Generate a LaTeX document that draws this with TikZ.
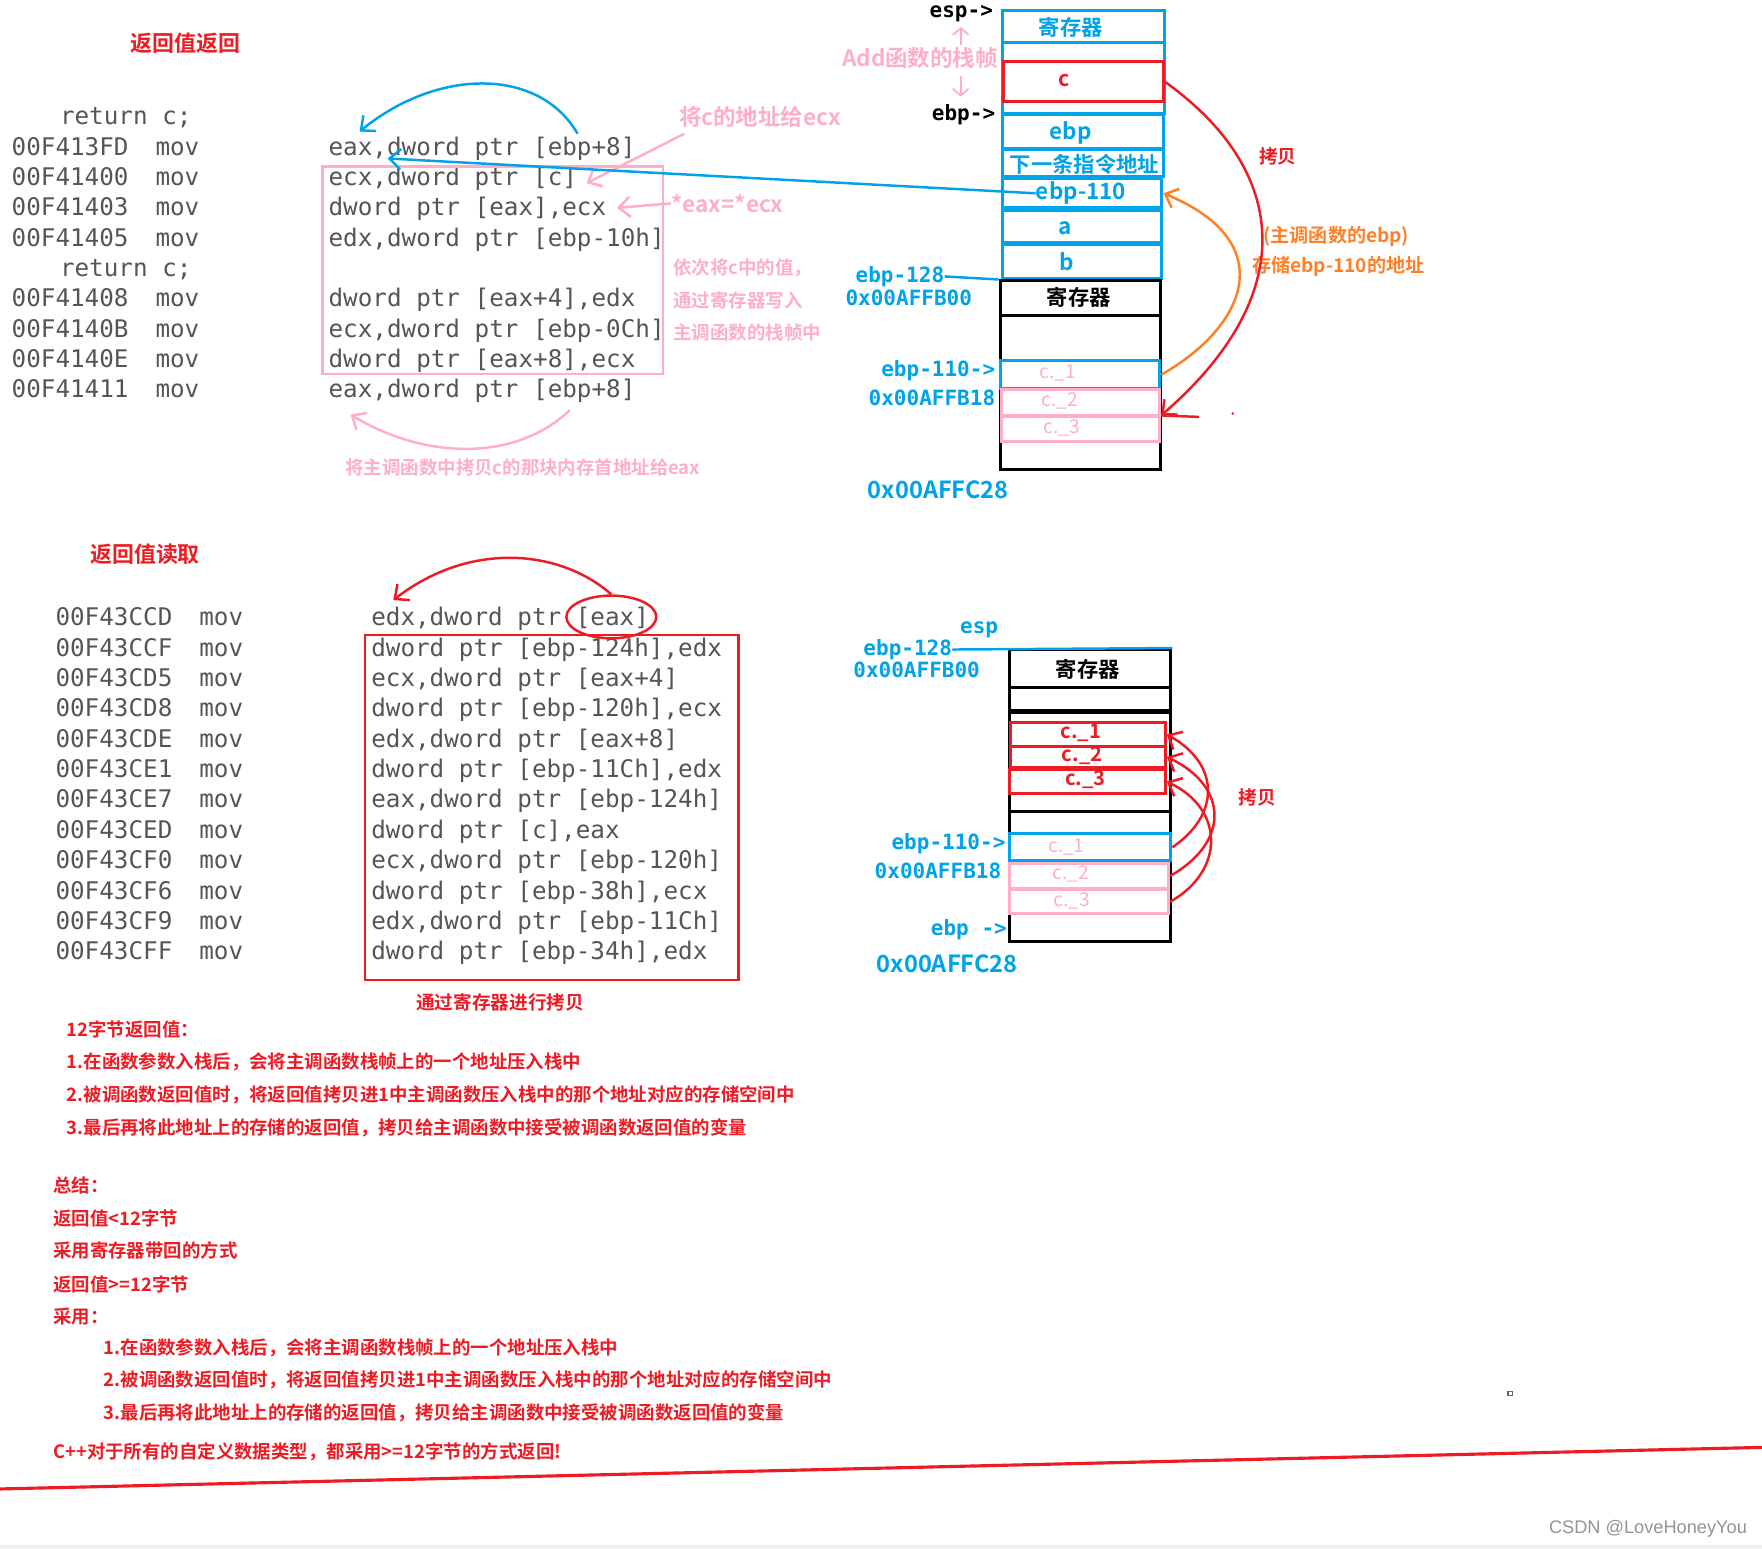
\documentclass[tikz,border=0pt]{standalone}
\usepackage{fontspec}
\setmainfont{Noto Sans CJK SC}[BoldFont={Noto Sans CJK SC Bold}]
\setmonofont{DejaVu Sans Mono}
\newfontfamily\wmfont{Liberation Sans}
\usetikzlibrary{arrows.meta,fit,shapes.geometric}
\definecolor{pred}{RGB}{237,28,36}
\definecolor{pblue}{RGB}{0,162,232}
\definecolor{ppink}{RGB}{255,174,201}
\definecolor{porange}{RGB}{255,127,39}
\definecolor{codegray}{RGB}{85,85,85}
\begin{document}
\begin{tikzpicture}[x=0.5pt,y=-0.5pt,
  code/.style={font=\ttfamily\fontsize{10.8pt}{10.8pt}\selectfont, text=codegray, anchor=base west, inner sep=0},
  redt/.style={font=\bfseries\fontsize{8.2pt}{8.2pt}\selectfont, text=pred, anchor=west, inner sep=0},
  titlet/.style={font=\bfseries\fontsize{9.75pt}{9.75pt}\selectfont, text=pred, anchor=west, inner sep=0},
  pinkbig/.style={font=\bfseries\fontsize{10pt}{10pt}\selectfont, text=ppink, anchor=west, inner sep=0},
  pinksm/.style={font=\bfseries\fontsize{8.2pt}{8.2pt}\selectfont, text=ppink, anchor=west, inner sep=0},
  oranget/.style={font=\bfseries\fontsize{8.5pt}{8.5pt}\selectfont, text=porange, anchor=west, inner sep=0},
  stackt/.style={font=\bfseries\fontsize{9.5pt}{9.5pt}\selectfont, inner sep=0},
  monob/.style={font=\ttfamily\bfseries\fontsize{9.35pt}{9.35pt}\selectfont, text=pblue, inner sep=0},
  ctext/.style={font=\fontsize{8.5pt}{8.5pt}\selectfont, text=ppink, inner sep=0},
  ctextr/.style={font=\bfseries\fontsize{9pt}{9pt}\selectfont, text=pred, inner sep=0},
  bluebox/.style={draw=pblue, line width=1.3pt, inner sep=0},
  redbox/.style={draw=pred, line width=1.3pt, inner sep=0},
  pinkbox/.style={draw=ppink, line width=1.3pt, inner sep=0},
  blackbox/.style={draw=black, line width=1.3pt, inner sep=0},
  tip/.style={-{Straight Barb[length=5pt,width=9pt]}},
  blueline/.style={draw=pblue, line width=1.1pt},
  redline/.style={draw=pred, line width=1.1pt},
  pinkline/.style={draw=ppink, line width=1.1pt},
  orangeline/.style={draw=porange, line width=1.1pt}]

\fill[white] (0,0) rectangle (1568,1378);
\useasboundingbox (0,0) rectangle (1568,1378);
\fill[black!6] (0,1375) rectangle (1568,1378);

%%%%%%%%%%%%%%%% top code
\node[titlet] (title1) at (116,38) {返回值返回};
\node[code] (ret1) at (53,111) {return c;};
\node[code] (ret2) at (53,246) {return c;};
\foreach \yy/\ad/\op [count=\i] in {
138/00F413FD/{eax,dword ptr [ebp+8]},
165/00F41400/{ecx,dword ptr [c]},
192/00F41403/{dword ptr [eax],ecx},
219/00F41405/{edx,dword ptr [ebp-10h]},
273/00F41408/{dword ptr [eax+4],edx},
300/00F4140B/{ecx,dword ptr [ebp-0Ch]},
327/00F4140E/{dword ptr [eax+8],ecx},
354/00F41411/{eax,dword ptr [ebp+8]}}
{\node[code] (ua\i) at (10,\yy) {\ad};
 \node[code] (um\i) at (138,\yy) {mov};
 \node[code] (uo\i) at (292,\yy) {\op};}

\node[fit={(287,148)(590,333)}, draw=ppink, line width=1.1pt, inner sep=0] (pbox) {};

\node[pinkbig] (lab1) at (604,104) {将c的地址给ecx};
\node[pinkbig] (lab2) at (597,181) {*eax=*ecx};
\node[pinksm] (lab3) at (599,238) {依次将c中的值，};
\node[pinksm] (lab4) at (599,267) {通过寄存器写入};
\node[pinksm] (lab5) at (599,296) {主调函数的栈帧中};
\node[pinksm] (lab6) at (307,416) {将主调函数中拷贝c的那块内存首地址给eax};

\coordinate (b1s) at (514,119);
\coordinate (b1e) at (320,117);
\draw[blueline,tip] (b1s) .. controls (480,60) and (390,60) .. (b1e);
\coordinate (p1s) at (609,119);
\coordinate (p1e) at (522,163);
\draw[pinkline,tip] (p1s) -- (p1e);
\coordinate (p2e) at (549,185);
\draw[pinkline,tip] (lab2.west) -- (p2e);
\coordinate (p3s) at (507,365);
\coordinate (p3e) at (312,369);
\draw[pinkline,tip] (p3s) .. controls (460,410) and (380,410) .. (p3e);

%%%%%%%%%%%%%%%% top stack
\node[bluebox, fit={(892,9)(1036,101)}] (sframe) {};
\node[bluebox, fit={(892,9)(1036,38)}] (sreg) {};
\node[redbox, fit={(893,55)(1035,90)}] (sc) {};
\node[bluebox, fit={(892,102)(1035,132)}] (sebp) {};
\node[bluebox, fit={(892,133)(1035,157)}] (snext) {};
\node[bluebox, fit={(892,159)(1034,185)}] (s110) {};
\node[bluebox, fit={(892,187)(1034,216)}] (sa) {};
\node[bluebox, fit={(892,218)(1034,248)}] (sb) {};
\node[blackbox, fit={(890,250)(1033,418)}] (sblk) {};
\node[blackbox, fit={(890,250)(1033,281)}] (sreg2) {};
\node[bluebox, fit={(890,321)(1032,346)}] (sc1) {};
\node[pinkbox, fit={(891,347)(1032,370)}] (sc2) {};
\node[pinkbox, fit={(891,371)(1032,393)}] (sc3) {};

\node[stackt, text=pblue] (tsreg) at (953,24) {寄存器};
\node[stackt, text=pred] (tsc) at (947,72) {c};
\node[stackt, text=pblue, font=\bfseries\fontsize{10pt}{10pt}\selectfont] (tsebp) at (953,118) {ebp};
\node[stackt, text=pblue] (tsnext) at (965,146) {下一条指令地址};
\node[stackt, text=pblue, font=\bfseries\fontsize{10pt}{10pt}\selectfont] (ts110) at (962,172) {ebp-110};
\node[stackt, text=pblue, font=\bfseries\fontsize{10pt}{10pt}\selectfont] (tsa) at (948,203) {a};
\node[stackt, text=pblue, font=\bfseries\fontsize{10pt}{10pt}\selectfont] (tsb) at (949,233) {b};
\node[stackt, text=black] (tsreg2) at (960,265) {寄存器};
\node[ctext] (tsc1) at (941,332) {c.\_1};
\node[ctext] (tsc2) at (943,357) {c.\_2};
\node[ctext] (tsc3) at (945,381) {c.\_3};

\node[monob, text=black, anchor=east] (tesp) at (884,12) {esp->};
\node[monob, text=black, anchor=east] (tebp) at (886,102) {ebp->};
\node[pinkbig] (tadd) at (749,52) {Add函数的栈帧};
\coordinate (ua1s) at (855,40);
\coordinate (ua1e) at (855,24);
\coordinate (ua2s) at (855,68);
\coordinate (ua2e) at (855,86);
\draw[draw=ppink, line width=0.8pt, -{Straight Barb[length=3pt,width=7pt]}] (ua1s) -- (ua1e);
\draw[draw=ppink, line width=0.8pt, -{Straight Barb[length=3pt,width=7pt]}] (ua2s) -- (ua2e);

\node[monob, anchor=west] (t128) at (761,246) {ebp-128};
\node[monob, anchor=west] (tb00) at (752,265) {0x00AFFB00};
\node[monob, anchor=east] (t110a) at (886,330) {ebp-110->};
\node[monob, anchor=east] (tb18) at (886,354) {0x00AFFB18};
\node[stackt, text=pblue, anchor=west, font=\bfseries\fontsize{10.5pt}{10.5pt}\selectfont] (tc28) at (772,436) {0x00AFFC28};
\draw[blueline] (t128.east) -- (sblk.north west);

\node[font=\bfseries\fontsize{8.3pt}{8.3pt}\selectfont, text=pred, anchor=west, inner sep=0] (tcopy1) at (1120,139) {拷贝};
\node[oranget] (tor1) at (1124,210) {(主调函数的ebp)};
\node[oranget] (tor2) at (1114,237) {存储ebp-110的地址};

\draw[redline,tip] (sc.east) .. controls (1145,150) and (1160,260) .. (sc3.north east);
\coordinate (rstroke) at (1067,371);
\draw[redline] (sc3.north east) -- (rstroke);
\fill[pred] (1097,368) circle (1.2);
\draw[orangeline,tip] (sc1.east) .. controls (1110,290) and (1140,215) .. (s110.east);
\coordinate (bltip) at (345,141);
\draw[blueline,tip] (ts110.west) -- (bltip);

%%%%%%%%%%%%%%%% bottom code
\node[titlet] (title2) at (80,493) {返回值读取};
\foreach \yy/\ad/\op [count=\i] in {
557/00F43CCD/{edx,dword ptr [eax]},
584/00F43CCF/{dword ptr [ebp-124h],edx},
611/00F43CD5/{ecx,dword ptr [eax+4]},
638/00F43CD8/{dword ptr [ebp-120h],ecx},
665/00F43CDE/{edx,dword ptr [eax+8]},
692/00F43CE1/{dword ptr [ebp-11Ch],edx},
719/00F43CE7/{eax,dword ptr [ebp-124h]},
746/00F43CED/{dword ptr [c],eax},
773/00F43CF0/{ecx,dword ptr [ebp-120h]},
800/00F43CF6/{dword ptr [ebp-38h],ecx},
827/00F43CF9/{edx,dword ptr [ebp-11Ch]},
854/00F43CFF/{dword ptr [ebp-34h],edx}}
{\node[code] (la\i) at (49,\yy) {\ad};
 \node[code] (lm\i) at (177,\yy) {mov};
 \node[code] (lo\i) at (330,\yy) {\op};}

\node[fit={(325,565)(657,872)}, draw=pred, line width=1.1pt, inner sep=0] (rbox) {};
\node[draw=pred, line width=1.1pt, ellipse, minimum width=40pt, minimum height=19pt, inner sep=0] (ell) at (544,549) {};
\coordinate (r2e) at (350,534);
\draw[redline,tip] (ell.north) .. controls (500,490) and (420,480) .. (r2e);
\node[font=\bfseries\fontsize{8.3pt}{8.3pt}\selectfont, text=pred, anchor=west, inner sep=0] (tvia) at (370,892) {通过寄存器进行拷贝};

%%%%%%%%%%%%%%%% bottom stack
\node[blackbox, fit={(898,578)(1042,838)}] (bblk) {};
\node[blackbox, fit={(898,578)(1042,612)}] (breg) {};
\node[blackbox, fit={(898,612)(1042,632)}] (brow) {};
\node[blackbox, fit={(898,634)(1042,722)}] (bmid) {};
\node[redbox, fit={(899,643)(1037,664)}] (bc1) {};
\node[redbox, fit={(899,664)(1037,683)}] (bc2) {};
\node[redbox, fit={(898,685)(1037,706)}] (bc3) {};
\node[bluebox, fit={(898,742)(1042,766)}] (bp1) {};
\node[pinkbox, fit={(898,768)(1040,791)}] (bp2) {};
\node[pinkbox, fit={(898,792)(1040,813)}] (bp3) {};

\node[stackt, text=black] (tbreg) at (968,596) {寄存器};
\node[ctextr] (tbc1) at (962,652) {c.\_1};
\node[ctextr] (tbc2) at (963,672) {c.\_2};
\node[ctextr] (tbc3) at (966,694) {c.\_3};
\node[ctext] (tbp1) at (949,754) {c.\_1};
\node[ctext] (tbp2) at (953,778) {c.\_2};
\node[ctext] (tbp3) at (954,802) {c.\_3};

\node[monob, anchor=west] (tbesp) at (854,560) {esp};
\node[monob, anchor=west] (tb128) at (768,578) {ebp-128};
\node[monob, anchor=west] (tbb00) at (759,596) {0x00AFFB00};
\node[monob, anchor=west] (tb110) at (793,751) {ebp-110->};
\node[monob, anchor=west] (tbb18) at (778,775) {0x00AFFB18};
\node[monob, anchor=west] (tbebp) at (828,827) {ebp ->};
\node[stackt, text=pblue, anchor=west, font=\bfseries\fontsize{10.5pt}{10.5pt}\selectfont] (tbc28) at (780,858) {0x00AFFC28};
\draw[blueline] (tb128.east) -- (bblk.north east);

\node[font=\bfseries\fontsize{8.3pt}{8.3pt}\selectfont, text=pred, anchor=west, inner sep=0] (tcopy2) at (1102,710) {拷贝};
\draw[redline,tip] (bp1.east) .. controls (1086,725) and (1086,680) .. (bc1.east);
\draw[redline,tip] (bp2.east) .. controls (1094,750) and (1094,700) .. (bc2.east);
\draw[redline,tip] (bp3.east) .. controls (1090,775) and (1090,720) .. (bc3.east);

%%%%%%%%%%%%%%%% notes
\node[redt] (n1) at (59,916) {12字节返回值：};
\node[redt] (n2) at (59,945) {1.在函数参数入栈后，会将主调函数栈帧上的一个地址压入栈中};
\node[redt] (n3) at (59,974) {2.被调函数返回值时，将返回值拷贝进1中主调函数压入栈中的那个地址对应的存储空间中};
\node[redt] (n4) at (59,1004) {3.最后再将此地址上的存储的返回值，拷贝给主调函数中接受被调函数返回值的变量};
\node[redt] (s1) at (47,1055) {总结：};
\node[redt] (s2) at (47,1084) {返回值<12字节};
\node[redt] (s3) at (47,1113) {采用寄存器带回的方式};
\node[redt] (s4) at (47,1143) {返回值>=12字节};
\node[redt] (s5) at (47,1172) {采用：};
\node[redt] (s6) at (92,1199) {1.在函数参数入栈后，会将主调函数栈帧上的一个地址压入栈中};
\node[redt] (s7) at (92,1228) {2.被调函数返回值时，将返回值拷贝进1中主调函数压入栈中的那个地址对应的存储空间中};
\node[redt] (s8) at (92,1257) {3.最后再将此地址上的存储的返回值，拷贝给主调函数中接受被调函数返回值的变量};
\node[redt] (s9) at (47,1292) {C++对于所有的自定义数据类型，都采用>=12字节的方式返回!};

\coordinate (hl1) at (0,1325);
\coordinate (hl2) at (1568,1288);
\draw[draw=pred, line width=1.4pt] (hl1) -- (hl2);
\draw[black!60, line width=0.5pt] (1342,1238) rectangle (1346,1242);
\node[font=\wmfont\fontsize{8.1pt}{8.1pt}\selectfont, text=black!42, anchor=east, inner sep=0] (wm) at (1555,1360) {CSDN @LoveHoneyYou};
\end{tikzpicture}
\end{document}
